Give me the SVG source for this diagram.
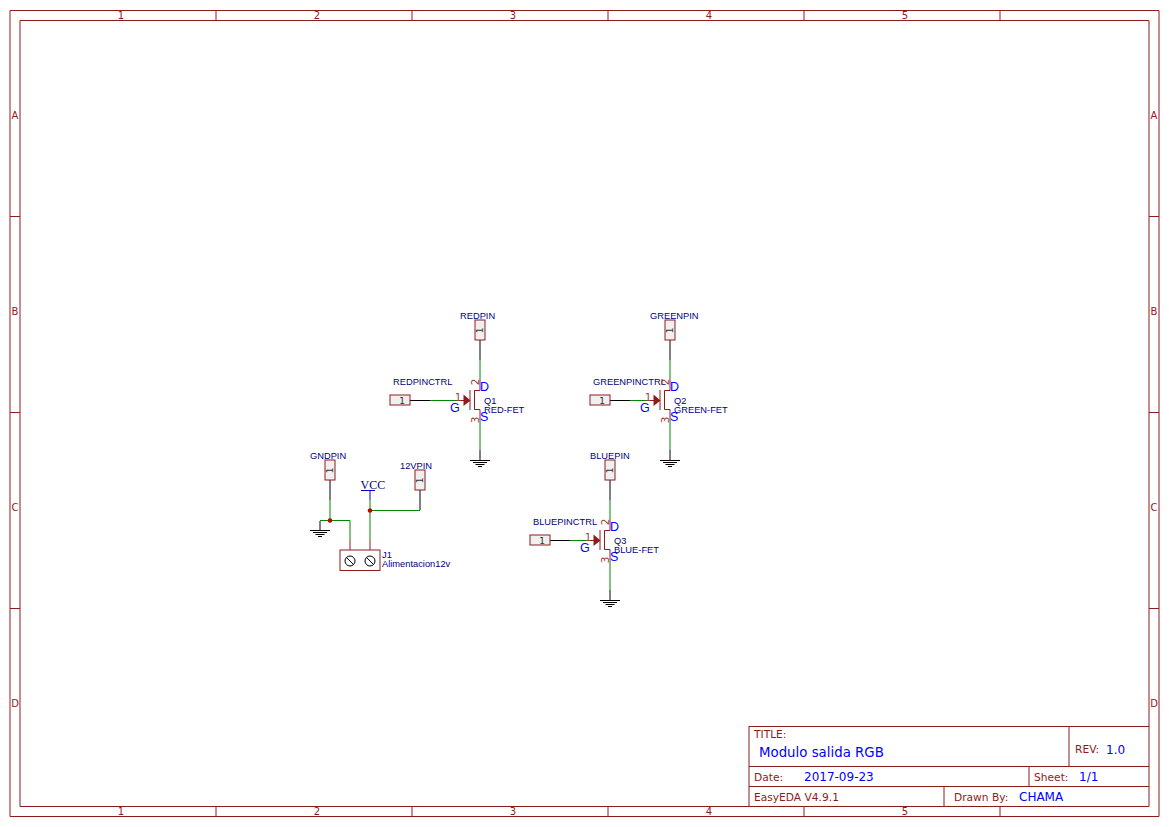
<svg xmlns="http://www.w3.org/2000/svg" xmlns:xlink="http://www.w3.org/1999/xlink" width="1169" height="827" viewBox="0 0 1169 827">
<style>
text{font-family:"DejaVu Sans",sans-serif;white-space:pre}
.fr{fill:none;stroke:#8c1c1c;stroke-width:1}
.ft{fill:#8c1c1c;font-size:10px;text-anchor:middle}
.tl{fill:#8c1c1c;font-size:10.670px}
.tv{fill:#0000ff;font-size:12px}
.tt{fill:#0000ff;font-size:13.330px}
.w{fill:none;stroke:#008800;stroke-width:1}
.b{fill:none;stroke:#000;stroke-width:1}
.m{fill:none;stroke:#8c1c1c;stroke-width:1}
.lb{fill:#000080;font-family:"Liberation Sans",sans-serif;font-size:9.300px}
.pl{fill:#f0f0f0;stroke:#8c1c1c;stroke-width:1}
.pn{fill:#333;font-size:9px;text-anchor:middle}
.pnm{fill:#a04040;font-size:10.500px;text-anchor:middle}
.fl{fill:#0000ff;font-size:12.500px;font-family:"Liberation Sans",sans-serif}
.vc{fill:#000080;font-family:"Liberation Serif",serif;font-size:12px}
.dot{fill:#cc0000}
</style>
<defs>
<g id="gnd" class="b"><path d="M-10 .5H10M-7 2.500H7M-4.500 4.500H4.500M-2 6.500H2"/></g>
<g id="fet"><path class="m" d="M0 -20V-9.500H-5.500V9.500H0V20M-10 -10V10M-20 .5H-15"/><path d="M-16.500 -5.500L-9.500 .5L-16.500 6Z" fill="#8c1c1c"/></g>
</defs>
<rect width="1169" height="827" fill="#fff"/>
<g id="frame">
<path class="fr" d="M10 10.500H1159V816.500H10ZM20 20.500H1149V806.500H20Z"/>
<path class="fr" d="M216 11V20M412 11V20M608 11V20M804 11V20M1000 11V20M216 807V816M412 807V816M608 807V816M804 807V816M1000 807V816M10 216.500H20M10 412.500H20M10 608.500H20M1149 216.500H1159M1149 412.500H1159M1149 608.500H1159"/>
<text class="ft" x="121" y="19">1</text><text class="ft" x="317" y="19">2</text><text class="ft" x="513" y="19">3</text><text class="ft" x="709" y="19">4</text><text class="ft" x="905" y="19">5</text>
<text class="ft" x="121" y="815">1</text><text class="ft" x="317" y="815">2</text><text class="ft" x="513" y="815">3</text><text class="ft" x="709" y="815">4</text><text class="ft" x="905" y="815">5</text>
<text class="ft" x="15" y="119">A</text><text class="ft" x="15" y="315">B</text><text class="ft" x="15" y="511">C</text><text class="ft" x="15" y="707">D</text>
<text class="ft" x="1154" y="119">A</text><text class="ft" x="1154" y="315">B</text><text class="ft" x="1154" y="511">C</text><text class="ft" x="1154" y="707">D</text>
</g>
<g id="title-block">
<path class="fr" d="M749 726.500H1149M749 766.500H1149M749 786.500H1149M749 806.500H1149M749 726V807M1069 727V766M1029 767V786M944 787V806"/>
<text class="tl" x="754" y="738">TITLE:</text>
<text class="tt" x="759" y="757">Modulo salida RGB</text>
<text class="tl" x="1075" y="753">REV:</text><text class="tv" x="1106" y="754">1.0</text>
<text class="tl" x="754" y="781">Date:</text><text class="tv" x="804" y="781">2017-09-23</text>
<text class="tl" x="1034" y="781">Sheet:</text><text class="tv" x="1079" y="781">1/1</text>
<text class="tl" x="754" y="801">EasyEDA V4.9.1</text>
<text class="tl" x="954" y="801">Drawn By:</text><text class="tv" x="1019" y="801">CHAMA</text>
</g>
<g id="connectors">
<path class="b" d="M480 340V360M670 340V360M610 480V500"/>
<path class="w" d="M480 360V380M670 360V380M610 500V520"/>
<path class="w" d="M480 420V450M670 420V450M610 560V590"/>
<path class="b" d="M480 450V460M670 450V460M610 590V600"/>
<path class="b" d="M410 400.500H430M610 400.500H630M550 540.500H570"/>
<path class="w" d="M430 400.500H460M630 400.500H650M570 540.500H590"/>
<path class="b" d="M330 480V500M320 521V530M420 490V510"/>
<path class="w" d="M330 500V520M320 520.500H350V540M370 500V540M370 510.500H420"/>
<path d="M370 490V500M361 490.500H375" fill="none" stroke="#0000cc"/>
<circle class="dot" cx="330" cy="520.500" r="2.300"/><circle class="dot" cx="370" cy="510.500" r="2.300"/>
<use xlink:href="#gnd" href="#gnd" x="480" y="460"/>
<use xlink:href="#gnd" href="#gnd" x="670" y="460"/>
<use xlink:href="#gnd" href="#gnd" x="610" y="600"/>
<use xlink:href="#gnd" href="#gnd" x="320" y="530"/>
</g>
<g id="redpin"><rect class="pl" x="475" y="320" width="10" height="20"/><text class="pn" transform="translate(483.300,330.500) rotate(-90)">1</text><text class="lb" x="460" y="319">REDPIN</text></g>
<g id="greenpin"><rect class="pl" x="665" y="320" width="10" height="20"/><text class="pn" transform="translate(673.300,330.500) rotate(-90)">1</text><text class="lb" x="650" y="319">GREENPIN</text></g>
<g id="bluepin"><rect class="pl" x="605" y="460" width="10" height="20"/><text class="pn" transform="translate(613.300,470.500) rotate(-90)">1</text><text class="lb" x="590" y="459">BLUEPIN</text></g>
<g id="gndpin"><rect class="pl" x="325" y="460" width="10" height="20"/><text class="pn" transform="translate(333.300,470.500) rotate(-90)">1</text><text class="lb" x="310" y="459">GNDPIN</text></g>
<g id="v12pin"><rect class="pl" x="415" y="470" width="10" height="20"/><text class="pn" transform="translate(423.300,480.500) rotate(-90)">1</text><text class="lb" x="400" y="469">12VPIN</text></g>
<g id="redpinctrl"><rect class="pl" x="390" y="395" width="20" height="10"/><text class="pn" x="402" y="404">1</text><text class="lb" x="393" y="385">REDPINCTRL</text></g>
<g id="greenpinctrl"><rect class="pl" x="590" y="395" width="20" height="10"/><text class="pn" x="602" y="404">1</text><text class="lb" x="593" y="385">GREENPINCTRL</text></g>
<g id="bluepinctrl"><rect class="pl" x="530" y="535" width="20" height="10"/><text class="pn" x="542" y="544">1</text><text class="lb" x="533" y="525">BLUEPINCTRL</text></g>
<g id="q1"><use xlink:href="#fet" href="#fet" x="480" y="400"/>
<text class="pnm" x="458" y="401">1</text><text class="pnm" transform="translate(479,382) rotate(-90)">2</text><text class="pnm" transform="translate(479,420) rotate(-90)">3</text>
<text class="fl" x="450" y="412">G</text><text class="fl" x="480" y="391">D</text><text class="fl" x="480" y="421">S</text>
<text class="lb" x="484" y="404">Q1</text><text class="lb" x="484" y="413">RED-FET</text></g>
<g id="q2"><use xlink:href="#fet" href="#fet" x="670" y="400"/>
<text class="pnm" x="648" y="401">1</text><text class="pnm" transform="translate(669,382) rotate(-90)">2</text><text class="pnm" transform="translate(669,420) rotate(-90)">3</text>
<text class="fl" x="640" y="412">G</text><text class="fl" x="670" y="391">D</text><text class="fl" x="670" y="421">S</text>
<text class="lb" x="674" y="404">Q2</text><text class="lb" x="674" y="413">GREEN-FET</text></g>
<g id="q3"><use xlink:href="#fet" href="#fet" x="610" y="540"/>
<text class="pnm" x="588" y="541">1</text><text class="pnm" transform="translate(609,522) rotate(-90)">2</text><text class="pnm" transform="translate(609,560) rotate(-90)">3</text>
<text class="fl" x="580" y="552">G</text><text class="fl" x="610" y="531">D</text><text class="fl" x="610" y="561">S</text>
<text class="lb" x="614" y="544">Q3</text><text class="lb" x="614" y="553">BLUE-FET</text></g>
<g id="vcc"><text class="vc" x="360.500" y="489">VCC</text></g>
<g id="j1"><rect class="m" x="340" y="550" width="40" height="20.500"/>
<path class="m" d="M350 540V550M370 540V550"/>
<circle class="b" cx="350" cy="561" r="5"/><circle class="b" cx="370" cy="561" r="5"/>
<path class="b" d="M346.500 557.500L353.500 564.500M366.500 557.500L373.500 564.500"/>
<text class="lb" x="382" y="558">J1</text><text class="lb" x="382" y="567">Alimentacion12v</text></g>
</svg>
